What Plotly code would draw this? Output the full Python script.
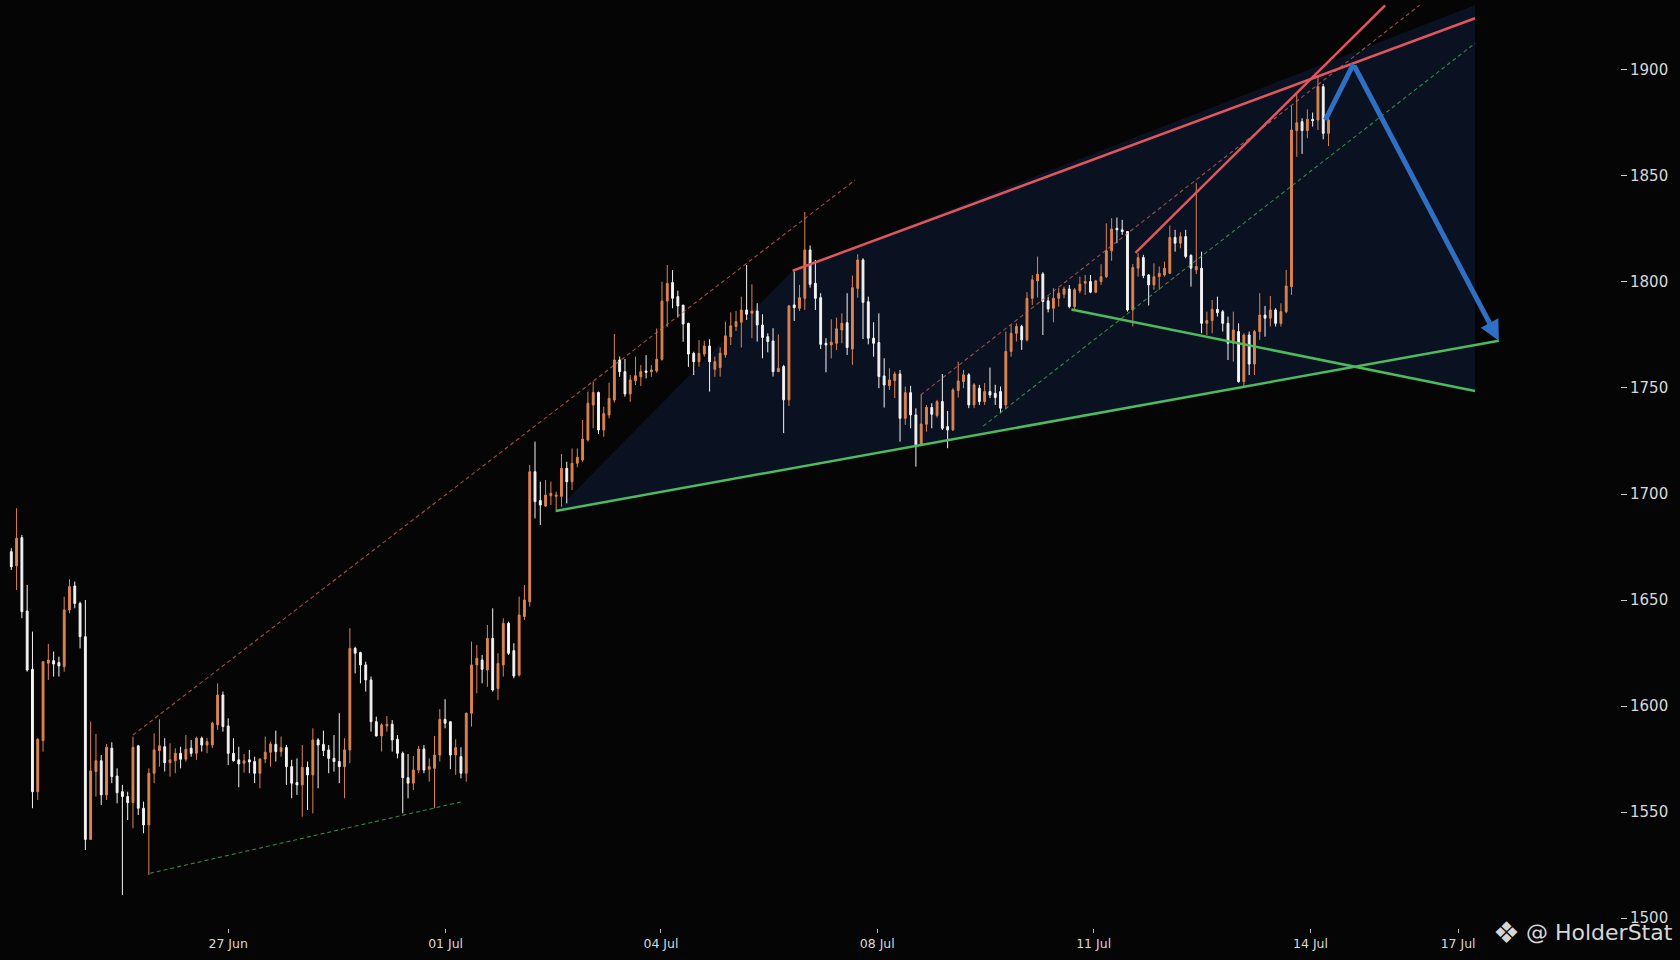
import plotly.graph_objects as go

# OHLC per bar (bar 1 = leftmost candle)
opens = [
    1672.8, 1666.1, 1679.4, 1644.8, 1617.3, 1559.6, 1583.7, 1620.2, 1621.4, 1620.5,
    1618.6, 1645.3, 1656.6, 1648.4, 1632.7, 1537.1, 1569.1, 1574.2, 1558.1, 1580.1,
    1567.0, 1559.6, 1557.3, 1554.4, 1581.2, 1551.8, 1543.9, 1568.3, 1579.0, 1580.8,
    1573.3, 1574.2, 1577.7, 1574.9, 1580.1, 1577.7, 1584.8, 1581.6, 1581.6, 1591.1,
    1605.2, 1590.6, 1577.7, 1574.6, 1573.0, 1574.6, 1573.8, 1568.3, 1575.0, 1578.2,
    1581.9, 1578.5, 1580.4, 1571.4, 1563.9, 1562.8, 1571.1, 1567.5, 1584.0, 1581.9,
    1579.3, 1575.3, 1573.8, 1571.4, 1579.3, 1627.2, 1625.2, 1619.4, 1612.3, 1592.6,
    1585.9, 1590.6, 1591.4, 1584.3, 1577.7, 1566.2, 1563.6, 1569.8, 1579.7, 1570.2,
    1570.6, 1576.9, 1593.7, 1592.6, 1576.9, 1576.1, 1568.3, 1596.6, 1619.4, 1621.7,
    1617.0, 1631.9, 1608.3, 1619.4, 1639.0, 1626.1, 1614.6, 1642.2, 1649.2, 1710.5,
    1696.9, 1694.3, 1699.2, 1698.9, 1698.9, 1712.1, 1705.8, 1714.5, 1716.0, 1725.5,
    1742.0, 1747.9, 1730.2, 1737.3, 1744.3, 1763.2, 1757.7, 1747.2, 1753.4, 1755.3,
    1758.0, 1757.7, 1758.0, 1763.5, 1791.0, 1799.7, 1793.1, 1789.1, 1780.5, 1766.3,
    1762.4, 1766.0, 1769.8, 1758.8, 1759.6, 1765.6, 1774.2, 1779.0, 1781.0, 1786.8,
    1785.2, 1786.3, 1779.7, 1774.2, 1772.2, 1757.7, 1760.1, 1744.4, 1789.2, 1787.6,
    1792.3, 1815.1, 1799.4, 1792.6, 1771.1, 1770.3, 1771.1, 1777.4, 1780.8, 1768.4,
    1797.0, 1810.4, 1790.7, 1773.5, 1771.4, 1755.7, 1751.1, 1753.5, 1756.6, 1735.7,
    1747.8, 1737.3, 1723.2, 1732.9, 1740.8, 1737.0, 1743.6, 1731.8, 1730.2, 1748.8,
    1753.0, 1756.2, 1742.0, 1749.9, 1743.6, 1748.3, 1747.5, 1748.3, 1742.0, 1767.2,
    1775.8, 1779.0, 1772.7, 1792.3, 1800.5, 1803.8, 1791.1, 1787.6, 1792.3, 1794.2,
    1796.7, 1788.4, 1795.8, 1799.4, 1800.2, 1795.2, 1800.2, 1802.5, 1814.7, 1825.3,
    1824.6, 1823.8, 1786.8, 1806.5, 1811.5, 1803.3, 1798.6, 1802.5, 1803.3, 1804.1,
    1821.0, 1818.3, 1821.4, 1812.5, 1805.7, 1806.5, 1780.5, 1781.8, 1787.1, 1786.0,
    1780.5, 1771.1, 1776.6, 1753.0, 1775.0, 1761.3, 1776.6, 1784.4, 1782.9, 1786.8,
    1780.5, 1786.0, 1797.8, 1871.4, 1875.6, 1871.4, 1876.7, 1876.4, 1892.1, 1870.1,
]
highs = [
    1674.4, 1693.3, 1680.7, 1657.1, 1635.1, 1584.8, 1620.9, 1629.3, 1625.7, 1623.3,
    1651.6, 1659.8, 1658.7, 1649.2, 1650.0, 1592.6, 1586.8, 1576.9, 1582.1, 1582.9,
    1570.6, 1562.8, 1559.6, 1585.6, 1581.7, 1554.9, 1570.6, 1587.1, 1593.7, 1584.8,
    1582.4, 1580.1, 1580.8, 1586.3, 1584.0, 1585.6, 1585.6, 1584.8, 1592.6, 1610.7,
    1606.8, 1594.2, 1584.8, 1580.8, 1577.4, 1579.3, 1576.1, 1575.3, 1585.6, 1583.2,
    1588.4, 1585.6, 1581.6, 1574.6, 1575.3, 1581.6, 1573.8, 1589.5, 1584.8, 1588.4,
    1581.6, 1586.3, 1596.6, 1584.8, 1636.7, 1628.0, 1625.6, 1620.9, 1613.9, 1595.0,
    1591.9, 1595.3, 1593.4, 1586.3, 1578.5, 1577.4, 1576.4, 1581.2, 1581.6, 1575.3,
    1585.9, 1598.5, 1603.2, 1592.6, 1584.3, 1580.5, 1596.9, 1630.4, 1628.8, 1624.1,
    1638.2, 1646.1, 1624.9, 1641.4, 1639.8, 1629.6, 1651.6, 1657.1, 1713.7, 1724.7,
    1705.8, 1706.6, 1705.8, 1701.1, 1718.9, 1715.2, 1721.5, 1721.5, 1734.9, 1748.3,
    1753.0, 1748.3, 1741.2, 1752.5, 1775.5, 1764.8, 1763.7, 1756.1, 1764.8, 1760.8,
    1765.5, 1760.8, 1778.1, 1800.1, 1808.0, 1805.6, 1795.9, 1789.1, 1780.8, 1767.1,
    1772.6, 1772.3, 1773.0, 1764.8, 1769.1, 1781.3, 1785.7, 1786.3, 1793.1, 1808.0,
    1798.9, 1790.0, 1784.8, 1775.8, 1778.2, 1775.3, 1760.9, 1789.2, 1804.9, 1798.6,
    1833.0, 1817.2, 1810.4, 1794.7, 1773.5, 1782.4, 1783.2, 1785.2, 1794.7, 1803.0,
    1813.1, 1811.2, 1793.1, 1781.0, 1785.2, 1764.0, 1759.3, 1757.7, 1758.5, 1750.7,
    1751.0, 1740.4, 1746.7, 1742.0, 1742.8, 1744.4, 1756.6, 1739.2, 1749.9, 1762.4,
    1758.5, 1757.0, 1752.3, 1751.5, 1752.3, 1759.6, 1751.5, 1750.7, 1776.6, 1779.8,
    1780.5, 1779.8, 1795.2, 1803.3, 1812.0, 1804.6, 1793.1, 1797.1, 1797.1, 1797.8,
    1798.6, 1797.1, 1802.5, 1803.3, 1803.3, 1801.0, 1808.4, 1827.7, 1830.1, 1830.4,
    1829.3, 1823.8, 1808.4, 1813.6, 1812.8, 1803.7, 1808.8, 1807.3, 1809.6, 1826.6,
    1824.6, 1823.5, 1824.6, 1813.1, 1846.6, 1814.3, 1786.0, 1791.5, 1793.1, 1786.8,
    1783.7, 1786.0, 1780.5, 1775.8, 1776.6, 1777.4, 1794.7, 1788.7, 1793.4, 1787.6,
    1789.9, 1805.7, 1883.0, 1889.0, 1877.2, 1881.4, 1879.9, 1896.8, 1893.4, 1877.2,
]
lows = [
    1664.2, 1654.7, 1641.4, 1616.2, 1551.8, 1555.7, 1578.5, 1612.3, 1613.9, 1613.9,
    1616.2, 1643.7, 1646.1, 1627.2, 1532.1, 1536.8, 1557.3, 1553.3, 1555.7, 1563.6,
    1554.1, 1510.9, 1546.2, 1542.3, 1548.6, 1540.0, 1520.3, 1563.6, 1571.4, 1569.1,
    1566.7, 1568.3, 1570.6, 1573.8, 1576.1, 1574.6, 1578.5, 1577.7, 1580.1, 1588.7,
    1587.9, 1572.2, 1573.8, 1561.7, 1568.6, 1568.3, 1563.6, 1561.2, 1573.0, 1571.4,
    1573.8, 1576.1, 1562.8, 1556.5, 1558.1, 1547.8, 1551.0, 1549.4, 1561.2, 1576.4,
    1568.3, 1569.1, 1563.6, 1556.5, 1573.0, 1615.4, 1610.7, 1606.8, 1587.9, 1585.6,
    1578.5, 1587.9, 1578.5, 1575.3, 1549.4, 1556.5, 1560.4, 1568.3, 1568.3, 1564.3,
    1551.8, 1573.8, 1589.5, 1570.2, 1567.5, 1565.9, 1564.3, 1590.3, 1606.0, 1610.7,
    1609.1, 1606.8, 1602.9, 1613.9, 1624.1, 1613.1, 1613.9, 1640.6, 1646.9, 1688.5,
    1685.4, 1694.0, 1694.8, 1692.5, 1694.0, 1695.6, 1701.9, 1712.6, 1715.2, 1724.7,
    1731.0, 1728.3, 1727.0, 1735.7, 1743.1, 1755.3, 1745.9, 1743.5, 1751.4, 1750.9,
    1754.5, 1755.3, 1757.2, 1762.9, 1778.9, 1787.6, 1783.3, 1771.8, 1760.0, 1756.1,
    1760.0, 1764.8, 1748.3, 1755.3, 1755.4, 1764.3, 1770.3, 1776.9, 1769.1, 1782.1,
    1773.5, 1771.9, 1764.0, 1766.8, 1755.4, 1757.7, 1728.7, 1741.5, 1781.6, 1786.3,
    1786.8, 1797.3, 1786.8, 1768.4, 1757.4, 1764.0, 1767.9, 1771.1, 1765.6, 1760.9,
    1792.6, 1773.1, 1770.6, 1764.8, 1749.9, 1740.8, 1749.1, 1745.2, 1724.7, 1732.6,
    1731.0, 1712.9, 1722.8, 1729.4, 1731.0, 1736.0, 1730.2, 1721.6, 1729.8, 1745.5,
    1749.9, 1740.5, 1740.5, 1742.0, 1742.0, 1745.2, 1742.0, 1738.1, 1740.0, 1764.8,
    1771.9, 1768.0, 1771.9, 1789.2, 1792.7, 1775.0, 1785.7, 1781.0, 1788.4, 1792.3,
    1787.6, 1786.8, 1794.7, 1793.9, 1794.7, 1794.7, 1798.6, 1801.8, 1810.0, 1818.3,
    1822.2, 1786.0, 1779.0, 1802.5, 1801.8, 1788.9, 1796.3, 1796.3, 1802.5, 1803.7,
    1814.3, 1815.9, 1811.2, 1797.8, 1803.7, 1775.8, 1775.0, 1775.8, 1783.7, 1776.6,
    1763.2, 1762.4, 1752.5, 1750.6, 1756.1, 1756.1, 1772.7, 1774.2, 1779.0, 1779.0,
    1779.0, 1785.2, 1793.9, 1859.1, 1860.4, 1867.8, 1873.3, 1871.7, 1867.3, 1864.1,
]
closes = [
    1665.7, 1679.1, 1644.5, 1617.0, 1559.6, 1584.3, 1620.9, 1621.7, 1619.8, 1618.9,
    1645.3, 1656.3, 1648.4, 1632.7, 1537.1, 1569.4, 1574.2, 1558.1, 1580.5, 1566.7,
    1559.1, 1557.3, 1554.4, 1580.5, 1551.8, 1543.9, 1568.3, 1579.3, 1581.2, 1573.3,
    1574.6, 1577.7, 1574.9, 1579.6, 1577.7, 1584.8, 1581.6, 1583.2, 1591.9, 1605.2,
    1590.3, 1577.7, 1574.2, 1572.7, 1574.2, 1573.6, 1568.3, 1575.0, 1578.2, 1582.1,
    1578.5, 1580.4, 1571.4, 1563.6, 1562.8, 1571.1, 1567.5, 1584.0, 1581.6, 1579.0,
    1575.3, 1573.8, 1571.4, 1579.3, 1627.2, 1624.9, 1619.4, 1612.3, 1592.6, 1585.9,
    1591.1, 1591.4, 1584.0, 1577.7, 1566.2, 1563.6, 1569.8, 1579.7, 1569.8, 1571.4,
    1576.9, 1593.7, 1591.9, 1576.9, 1580.4, 1568.3, 1596.6, 1619.4, 1622.5, 1617.3,
    1631.9, 1607.6, 1620.1, 1639.0, 1624.9, 1614.2, 1642.9, 1650.0, 1710.5, 1696.4,
    1694.8, 1699.5, 1700.3, 1699.5, 1712.1, 1705.8, 1714.5, 1717.3, 1725.9, 1742.8,
    1747.9, 1730.2, 1738.0, 1745.1, 1763.2, 1757.7, 1747.2, 1753.8, 1755.8, 1757.7,
    1757.4, 1758.5, 1763.5, 1791.0, 1799.3, 1792.3, 1788.7, 1780.2, 1766.0, 1762.4,
    1766.3, 1769.8, 1762.4, 1762.4, 1766.4, 1774.6, 1779.3, 1781.3, 1786.8, 1784.8,
    1786.3, 1779.7, 1773.8, 1771.9, 1757.7, 1759.3, 1744.4, 1788.7, 1787.9, 1792.6,
    1815.1, 1798.9, 1792.3, 1770.6, 1770.3, 1771.6, 1777.9, 1780.5, 1769.1, 1797.3,
    1810.4, 1790.4, 1773.5, 1771.1, 1755.4, 1751.4, 1753.8, 1756.6, 1735.7, 1747.8,
    1737.3, 1723.2, 1733.0, 1740.9, 1737.6, 1743.6, 1731.0, 1730.2, 1749.1, 1753.3,
    1756.2, 1742.0, 1751.5, 1743.6, 1748.3, 1746.7, 1745.5, 1740.5, 1767.2, 1775.8,
    1779.0, 1772.7, 1792.3, 1801.0, 1803.7, 1790.8, 1787.3, 1792.3, 1794.7, 1796.7,
    1788.4, 1796.3, 1799.0, 1800.2, 1795.2, 1800.5, 1802.5, 1814.7, 1825.0, 1824.6,
    1823.8, 1786.8, 1806.8, 1811.5, 1803.0, 1798.6, 1802.5, 1804.1, 1806.5, 1821.0,
    1818.3, 1821.4, 1812.0, 1806.5, 1807.3, 1780.5, 1781.8, 1787.1, 1785.5, 1780.5,
    1771.1, 1777.4, 1753.0, 1775.0, 1761.3, 1776.6, 1784.4, 1782.9, 1786.8, 1780.5,
    1786.0, 1798.1, 1871.7, 1875.1, 1871.4, 1876.7, 1876.1, 1892.1, 1870.1, 1876.4,
]
bars = list(range(1, len(opens) + 1))

# x axis labels sit on bar positions
date_ticks = [42, 83.1, 123.8, 164.7, 205.6, 246.6, 274.5]
date_labels = ['27 Jun', '01 Jul', '04 Jul', '08 Jul', '11 Jul', '14 Jul', '17 Jul']
price_ticks = [1500, 1550, 1600, 1650, 1700, 1750, 1800, 1850, 1900]

# hand drawn lines: ([bar, bar], [price, price])
red_dash_left = ([24.0, 160.5], [1586.3, 1848.1])
green_dash_left = ([27.2, 86.4], [1521.1, 1555.0])
red_dash_right = ([172.9, 267.2], [1746.7, 1930.5])
green_dash_right = ([184.7, 277.7], [1732.0, 1912.6])
red_upper = ([148.7, 277.7], [1805.3, 1924.4])
red_steep = ([213.5, 260.7], [1813.7, 1930.5])
green_rising = ([103.9, 282.2], [1692.0, 1772.3])
green_falling = ([201.4, 277.7], [1787.0, 1748.6])
# shaded zone corners (bottom edge follows the green lines)
zone_x = [103.9, 148.7, 277.7, 277.7, 255.0]
zone_y = [1692.0, 1805.3, 1930.7, 1748.6, 1760.0]
arrow_x = [249.4, 254.7, 282.2]
arrow_y = [1876.4, 1902.7, 1772.3]

up_col = '#dd8450'
down_col = '#f4f4f4'
bg = '#050505'

fig = go.Figure()

fig.add_trace(go.Candlestick(
    x=bars, open=opens, high=highs, low=lows, close=closes,
    increasing=dict(line=dict(color=up_col, width=1), fillcolor=up_col),
    decreasing=dict(line=dict(color=down_col, width=1), fillcolor=down_col),
))

# shaded wedge zone, as a shape so it stays under the candles
zone_path = 'M ' + ' L '.join(f'{x},{y}' for x, y in zip(zone_x, zone_y)) + ' Z'
fig.add_shape(type='path', path=zone_path, xref='x', yref='y', layer='below',
              fillcolor='#0a1120', line=dict(width=0))


def add_line(pts, color, width, dash=None):
    fig.add_trace(go.Scatter(x=pts[0], y=pts[1], mode='lines',
                             line=dict(color=color, width=width, dash=dash),
                             hoverinfo='skip'))


add_line(red_dash_left, 'rgba(215,105,85,0.75)', 1.1, '4px,3px')
add_line(green_dash_left, 'rgba(70,160,85,0.8)', 1.1, '4px,3px')
add_line(red_dash_right, 'rgba(215,105,100,0.7)', 1.1, '4px,3px')
add_line(green_dash_right, 'rgba(70,160,85,0.8)', 1.1, '4px,3px')
add_line(red_upper, '#e0565c', 2.5)
add_line(red_steep, '#e0565c', 2.5)
add_line(green_rising, '#4cbb5e', 2.5)
add_line(green_falling, '#4cbb5e', 2.5)

# blue projection arrow
blue = '#2f6fc4'
fig.add_trace(go.Scatter(x=arrow_x[:2], y=arrow_y[:2], mode='lines',
                         line=dict(color=blue, width=5), hoverinfo='skip'))
fig.add_annotation(x=arrow_x[2], y=arrow_y[2], ax=arrow_x[1], ay=arrow_y[1],
                   xref='x', yref='y', axref='x', ayref='y', text='',
                   showarrow=True, arrowhead=2, arrowsize=0.8, arrowwidth=5,
                   arrowcolor=blue)

# watermark
fig.add_annotation(x=0.9302, y=-0.005, xref='paper', yref='paper', text='❖',
                   showarrow=False, xanchor='center', yanchor='middle',
                   font=dict(size=30, color='#d6d6d6', family='DejaVu Sans'))
fig.add_annotation(x=0.9405, y=-0.005, xref='paper', yref='paper', text='@ HolderStat',
                   showarrow=False, xanchor='left', yanchor='middle',
                   font=dict(size=22, color='#d6d6d6', family='DejaVu Sans'))

fig.update_layout(
    width=1680, height=960,
    paper_bgcolor=bg, plot_bgcolor=bg,
    margin=dict(l=0, r=60, t=0, b=32),
    showlegend=False,
    boxgap=0.5,
    font=dict(family='DejaVu Sans', color='#d8d8d8'),
    xaxis=dict(range=[-1.136, 305.1], tickvals=date_ticks, ticktext=date_labels,
               ticks='outside', ticklen=4, tickcolor='#bbbbbb', tickfont=dict(size=12.5),
               showgrid=False, zeroline=False, showline=False,
               rangeslider=dict(visible=False)),
    yaxis=dict(side='right', range=[1495.3, 1933.0], tickvals=price_ticks,
               ticks='outside', ticklen=6, tickcolor='#cccccc', tickfont=dict(size=15),
               showgrid=False, zeroline=False, showline=False),
)

fig.write_html("out.html", config={'displayModeBar': False},
               post_script="document.body.style.margin='0';")
